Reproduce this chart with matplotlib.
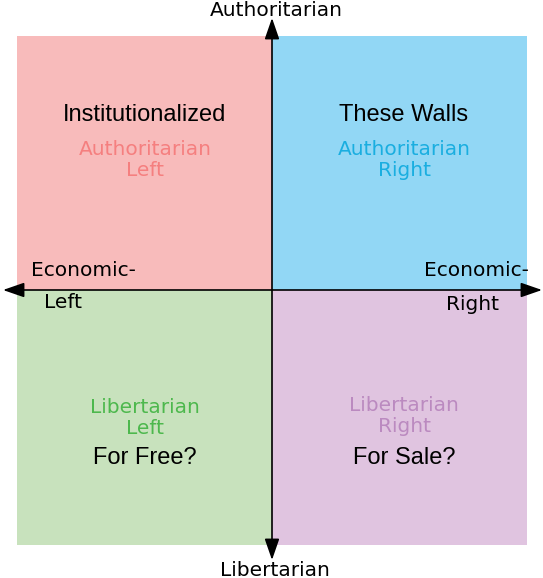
import matplotlib.pyplot as plt
from matplotlib.patches import Rectangle

# quadrant data
quad_names = ["AuthLeft", "AuthRight", "LibLeft", "LibRight"]
quad_colors = ["#f8bbbb", "#92d7f5", "#c8e2bd", "#e0c4e0"]
quad_titles = ["Institutionalized", "These Walls", "For Free?", "For Sale?"]
quad_labels = ["Authoritarian\nLeft", "Authoritarian\nRight", "Libertarian\nLeft", "Libertarian\nRight"]
label_colors = ["#f57f7f", "#1aaee0", "#4db84d", "#bb8ac0"]

TITLE_FS = 17
LABEL_FS = 14.5

fig = plt.figure(figsize=(5.43, 5.78), dpi=100)
ax = fig.add_axes([0, 0, 1, 1])
ax.set_xlim(0, 543)
ax.set_ylim(578, 0)
ax.axis("off")

cx, cy = 272, 290
x0s = [17, cx, 17, cx]
y0s = [36, 36, cy, cy]
for x0, y0, c in zip(x0s, y0s, quad_colors):
    ax.add_patch(Rectangle((x0, y0), (527 - cx) if x0 == cx else (cx - 17),
                           (cy - 36) if y0 == 36 else (545 - cy), color=c, lw=0))

for i in range(4):
    xc = 145 if i % 2 == 0 else 404
    if i < 2:
        ax.text(xc, 115, quad_titles[i], ha="center", va="center", fontsize=TITLE_FS,
                family="Liberation Sans")
        ax.text(xc, 160, quad_labels[i], ha="center", va="center", fontsize=LABEL_FS,
                color=label_colors[i], linespacing=1.1)
    else:
        ax.text(xc, 418 if i == 2 else 416, quad_labels[i], ha="center", va="center",
                fontsize=LABEL_FS, color=label_colors[i], linespacing=1.1)
        ax.text(xc, 458, quad_titles[i], ha="center", va="center", fontsize=TITLE_FS,
                family="Liberation Sans")

arrow = dict(arrowstyle="<|-|>,head_length=1.3,head_width=0.45", color="black", lw=1.2,
             shrinkA=0, shrinkB=0)
ax.annotate("", xy=(cx, 18), xytext=(cx, 560), arrowprops=arrow)
ax.annotate("", xy=(3, cy), xytext=(542, cy), arrowprops=arrow)

ax.text(276, 10, "Authoritarian", ha="center", va="center", fontsize=LABEL_FS)
ax.text(275, 570, "Libertarian", ha="center", va="center", fontsize=LABEL_FS)
ax.text(83, 270, "Economic-", ha="center", va="center", fontsize=LABEL_FS)
ax.text(63, 303, "Left", ha="center", va="center", fontsize=LABEL_FS)
ax.text(476, 270, "Economic-", ha="center", va="center", fontsize=LABEL_FS)
ax.text(472, 305, "Right", ha="center", va="center", fontsize=LABEL_FS)

fig.savefig("out.png", dpi=100)
